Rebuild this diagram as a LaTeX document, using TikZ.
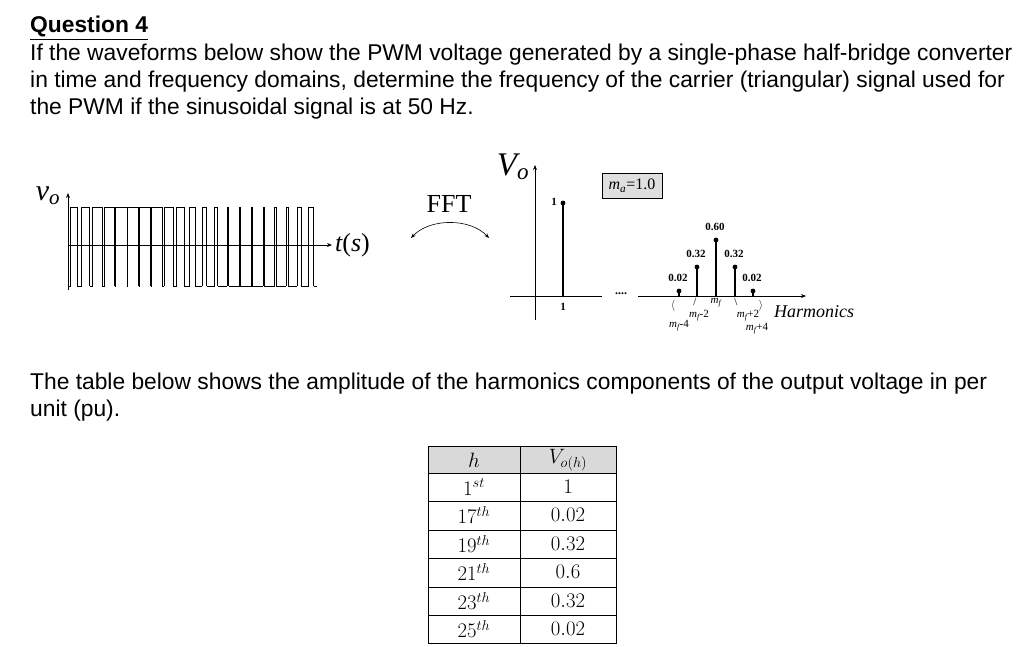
\documentclass[tikz,border=0pt]{standalone}
\usepackage{fontspec}
\setmainfont{Liberation Sans}
\newfontfamily\tms{Liberation Serif}
\usetikzlibrary{arrows.meta}
\newcommand{\mfl}[1]{{\itshape m\textsubscript{f}}#1}
\begin{document}
\begin{tikzpicture}[x=1pt,y=-1pt,
  body/.style={anchor=base west,inner sep=0pt,font=\fontsize{22.8}{26}\selectfont},
  sm/.style={inner sep=0pt,font=\tms\bfseries\fontsize{11}{12}\selectfont},
  lab/.style={inner sep=0pt,font=\tms\fontsize{11}{11}\selectfont},
  ax/.style={line width=0.8pt,-{Stealth[length=5pt,width=4pt]}},
  stem/.style={line width=1.3pt},
  cell/.style={inner sep=0pt,font=\fontsize{21}{24}\selectfont}]
\useasboundingbox (0,0) rectangle (1024,647);
% text
\node[body,font=\bfseries\fontsize{22.8}{26}\selectfont] (q) at (30,33) {\underline{Question 4}};
\node[body] (l1) at (30,61) {If the waveforms below show the PWM voltage generated by a single-phase half-bridge converter};
\node[body] (l2) at (30,88) {in time and frequency domains, determine the frequency of the carrier (triangular) signal used for};
\node[body] (l3) at (30,115) {the PWM if the sinusoidal signal is at 50 Hz.};
\node[body] (l4) at (30,389) {The table below shows the amplitude of the harmonics components of the output voltage in per};
\node[body] (l5) at (30,416) {unit (pu).};
% PWM waveform
\draw[ax] (68,290) -- (68,193);
\draw[ax] (68,245) -- (332,245);
\node[inner sep=0pt,font=\tms\fontsize{30}{30}\selectfont] (vo) at (48,196) {{\itshape v}\textsubscript{\itshape o}};
\node[inner sep=0pt,anchor=west,font=\tms\fontsize{26}{26}\selectfont] (ts) at (335,245) {{\itshape t}({\itshape s})};
\foreach \k in {0,...,20}{
  \pgfmathsetmacro{\T}{249/21}
  \pgfmathsetmacro{\c}{68+(\k+0.5)*\T}
  \pgfmathsetmacro{\d}{0.5*(1+0.92*sin(360*(\k+0.5)/21))}
  \pgfmathsetmacro{\a}{\c-\d*\T/2}
  \pgfmathsetmacro{\b}{\c+\d*\T/2}
  \draw[line width=0.9pt] (\a,286) -- (\a,207) -- (\b,207) -- (\b,286);
  \draw[line width=0.9pt] (\b,286) -- ({68+(\k+1)*\T},286);
  \draw[line width=0.9pt] ({68+\k*\T},286) -- (\a,286);
}
% FFT
\node[inner sep=0pt,font=\tms\fontsize{26}{28}\selectfont] (fft) at (449,204) {FFT};
\coordinate (fa) at (411,238);
\coordinate (fb) at (489,238);
\draw[{Stealth[length=5pt]}-{Stealth[length=5pt]},line width=0.6pt] (fa) .. controls (430,218) and (470,218) .. (fb);
% spectrum
\draw[ax] (535,320) -- (535,165);
\draw[line width=0.8pt] (510,296) -- (602,296);
\draw[ax] (638,296) -- (806,296);
\node[inner sep=0pt,font=\tms\bfseries\fontsize{12}{12}\selectfont] (dots) at (621,294) {....};
\node[inner sep=0pt,font=\tms\fontsize{33}{33}\selectfont] (VO) at (513,167) {{\itshape V}\textsubscript{\itshape o}};
\draw[stem] (563,296) -- (563,203);
\fill (563,203) circle (2.4pt);
\node[sm] at (554,202) {1};
\node[sm] at (563,307) {1};
\node[draw,fill=gray!25,minimum width=60pt,minimum height=25pt,inner sep=0pt,font=\tms\fontsize{16}{16}\selectfont] (ma) at (632,186) {{\itshape m\textsubscript{a}}=1.0};
\foreach \x/\y/\v in {679/291/0.02,697/267/0.32,716/240/0.60,735/267/0.32,753/291/0.02}{
  \draw[stem] (\x,296) -- (\x,\y);
  \fill (\x,\y) circle (2.4pt);
  \node[sm] at (\x-1,\y-13) {\v};
}
\node[lab] at (673,306) {$\langle$};
\node[lab] at (679,326) {\mfl{-4}};
\node[lab] at (695,302) {/};
\node[lab] at (699,316) {\mfl{-2}};
\node[lab] at (716,303) {\mfl{}};
\node[lab] at (736,302) {\textbackslash};
\node[lab] at (748,316) {\mfl{+2}};
\node[lab] at (761,306) {$\rangle$};
\node[lab] at (757,329) {\mfl{+4}};
\node[inner sep=0pt,anchor=west,font=\tms\itshape\fontsize{18}{18}\selectfont] (harm) at (774,312) {Harmonics};
% table
\fill[gray!30] (428,446) rectangle (616,473);
\draw[line width=0.8pt] (428,446) rectangle (616,643);
\draw[line width=0.8pt] (520,446) -- (520,643);
\foreach \y in {473,501,530,558,587,615}{\draw[line width=0.8pt] (428,\y) -- (616,\y);}
\node[cell] at (474,460) {$h$};
\node[cell] at (568,460) {$V_{o(h)}$};
\foreach \h/\s/\v/\y in {1/st/1/487,17/th/0.02/515,19/th/0.32/544,21/th/0.6/572,23/th/0.32/601,25/th/0.02/629}{
  \node[cell] at (474,\y) {$\h^{\s}$};
  \node[cell] at (568,\y) {$\v$};
}
\end{tikzpicture}
\end{document}
